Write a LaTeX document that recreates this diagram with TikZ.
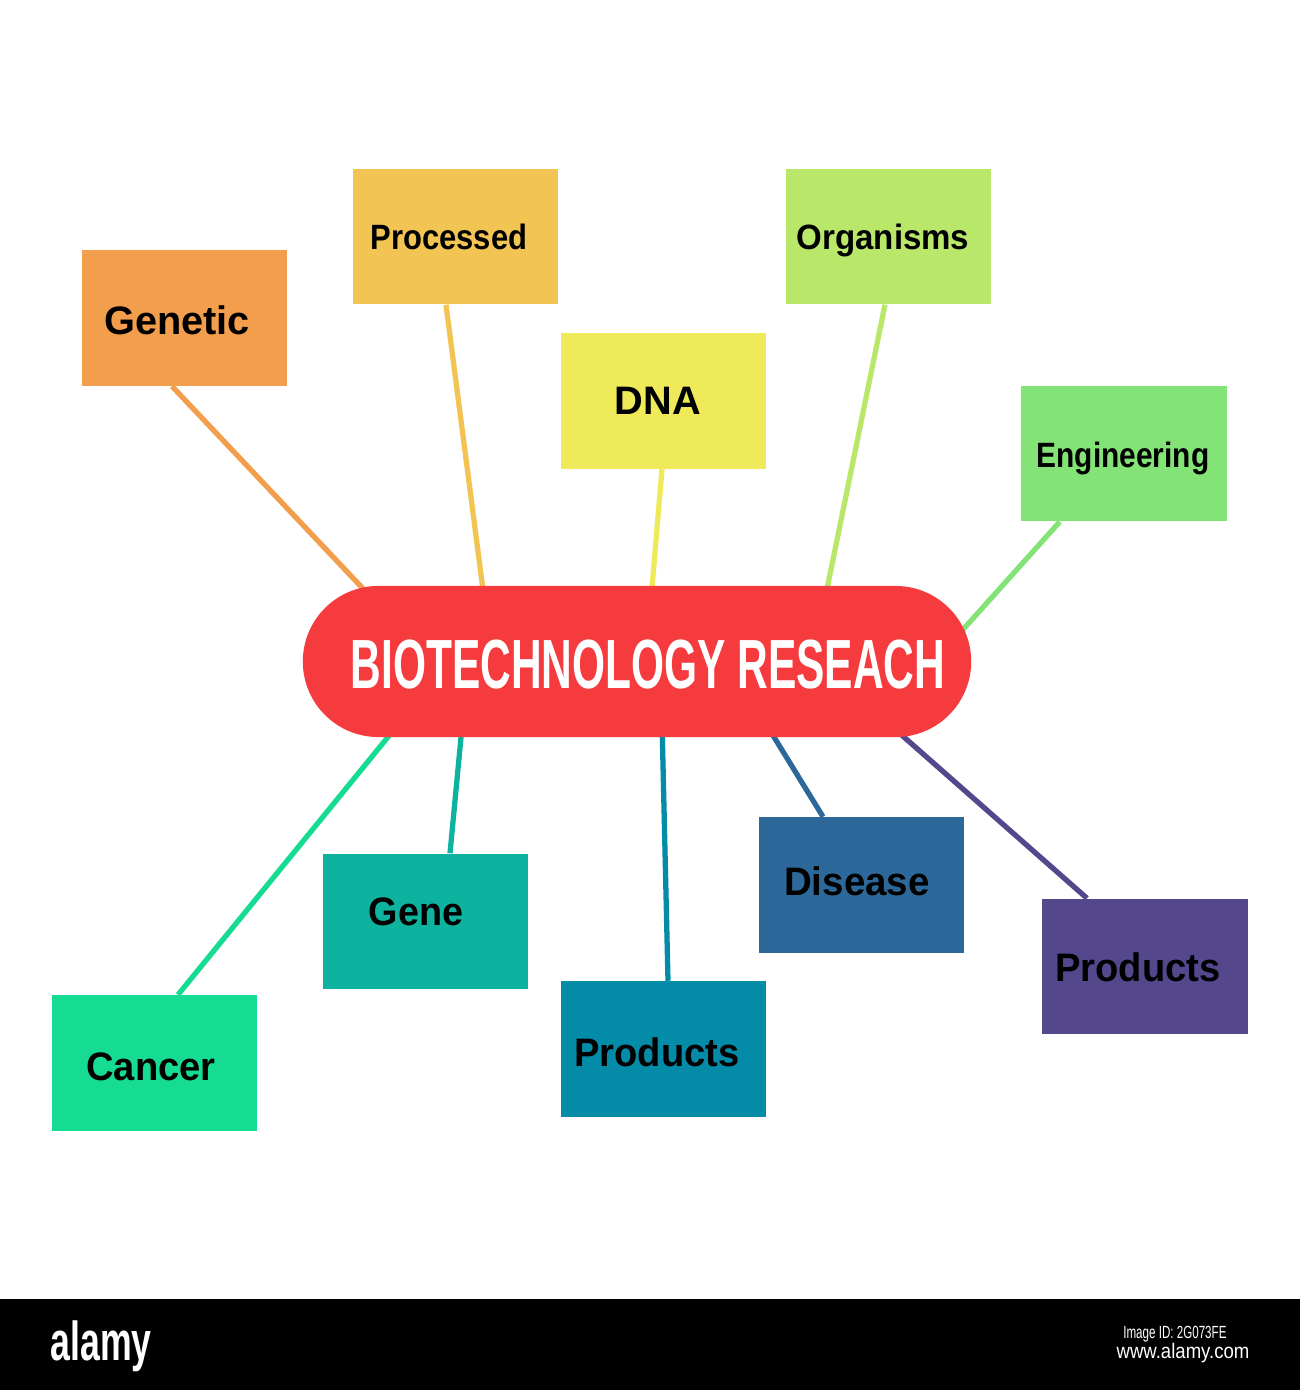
\documentclass[tikz,border=0pt]{standalone}
\usepackage{fontspec}
\setmainfont{Liberation Sans}
\usetikzlibrary{calc,backgrounds}
\definecolor{cGenetic}{HTML}{F29E4C}
\definecolor{cProcessed}{HTML}{F1C453}
\definecolor{cDNA}{HTML}{EFEA5A}
\definecolor{cOrganisms}{HTML}{B9E769}
\definecolor{cEngineering}{HTML}{83E377}
\definecolor{cCancer}{HTML}{16DB93}
\definecolor{cGene}{HTML}{0DB39E}
\definecolor{cProductsA}{HTML}{048BA8}
\definecolor{cDisease}{HTML}{2C699A}
\definecolor{cProductsB}{HTML}{54478C}
\definecolor{cCore}{HTML}{F53B3D}
\begin{document}
\begin{tikzpicture}[x=0.01cm,y=-0.01cm,line cap=butt,line join=miter]
			\tikzset{box/.style={rectangle,draw=none,minimum width=2.05cm,minimum height=1.35cm,inner sep=0pt},
				tag/.style={inner sep=0pt,text height=8.1pt,text depth=0pt,text=black,font=\bfseries\fontsize{11.3}{13}\selectfont},
				small tag/.style={tag,text height=7.2pt,font=\bfseries\fontsize{10}{12}\selectfont},
				link/.style={line width=1.5pt}
			}
			\useasboundingbox (0,0) rectangle (1300,1390);
			% centre
			\node[rectangle,rounded corners=0.755cm,fill=cCore,minimum width=6.68cm,minimum height=1.51cm] (core) at (637,661.5) {};
			\node[text=white,inner sep=0pt,xscale=0.61,text height=14.3pt,text depth=0pt,font=\bfseries\fontsize{19.8}{22}\selectfont] (title) at (648,663) {BIOTECHNOLOGY RESEACH};
			% boxes
			\node[box,fill=cGenetic] (genetic) at (184.5,318) {};
			\node[box,fill=cProcessed] (processed) at (455.5,236.5) {};
			\node[box,fill=cDNA] (dna) at (663.5,401) {};
			\node[box,fill=cOrganisms] (organisms) at (888.5,236.5) {};
			\node[box,fill=cEngineering] (engineering) at (1124,453.5) {};
			\node[box,fill=cCancer] (cancer) at (154.5,1063) {};
			\node[box,fill=cGene] (gene) at (425.5,921.5) {};
			\node[box,fill=cProductsA] (productsA) at (663.5,1049) {};
			\node[box,fill=cDisease] (disease) at (861.5,885) {};
			\node[box,fill=cProductsB] (productsB) at (1145,966.5) {};
			% labels
			\node[tag] (tGenetic) at (177,320) {Genetic};
			\node[small tag,xscale=0.88] (tProcessed) at (449,237) {Processed};
			\node[tag] (tDNA) at (658,400) {DNA};
			\node[small tag,xscale=0.94] (tOrganisms) at (883,237) {Organisms};
			\node[small tag,xscale=0.85] (tEngineering) at (1123,455) {Engineering};
			\node[tag,xscale=0.96] (tCancer) at (151,1066) {Cancer};
			\node[tag,xscale=0.95] (tGene) at (416,911) {Gene};
			\node[tag,xscale=0.96] (tProductsA) at (657,1052) {Products};
			\node[tag,xscale=0.97] (tDisease) at (857,881) {Disease};
			\node[tag,xscale=0.96] (tProductsB) at (1138,967) {Products};
			% connectors
			\begin{scope}[on background layer]
				\draw[link,cGenetic] ($(genetic.south)+(-12.5,0)$) -- ($(core.north west)+(70,13)$);
				\draw[link,cProcessed] ($(processed.south)+(-9.5,0)$) -- ($(core.north west)+(182,13)$);
				\draw[link,cDNA] ($(dna.south)+(-1.5,0)$) -- ($(core.north west)+(349,13)$);
				\draw[link,cOrganisms] ($(organisms.south)+(-3.5,0)$) -- ($(core.north west)+(523,13)$);
				\draw[link,cEngineering] ($(engineering.south west)+(39,0)$) -- ($(core.north east)+(-14,50)$);
				\draw[link,cCancer] ($(cancer.north)+(23.5,0)$) -- ($(core.south west)+(95,-12)$);
				\draw[link,cGene] ($(gene.north)+(24.5,0)$) -- ($(core.south west)+(160,-12)$);
				\draw[link,cProductsA] ($(productsA.north)+(4.5,0)$) -- ($(core.south west)+(360,-12)$);
				\draw[link,cDisease] ($(disease.north)+(-38.5,0)$) -- ($(core.south west)+(465,-12)$);
				\draw[link,cProductsB] ($(productsB.north)+(-58,0)$) -- ($(core.south west)+(589,-12)$);
			\end{scope}
			% bottom bar
			\fill[black] (0,1299) rectangle (1300,1390);
			\node[text=white,inner sep=0pt,anchor=base west,xscale=0.65,font=\bfseries\fontsize{15.6}{17}\selectfont] (logo) at (50,1360) {alamy};
			\node[text=white,inner sep=0pt,anchor=base east,xscale=0.66,font=\fontsize{5}{6}\selectfont] (imgid) at (1227,1338) {Image ID: 2G073FE};
			\node[text=white,inner sep=0pt,anchor=base east,xscale=0.88,font=\fontsize{6}{7}\selectfont] (site) at (1250,1358) {www.alamy.com};
\end{tikzpicture}
\end{document}
